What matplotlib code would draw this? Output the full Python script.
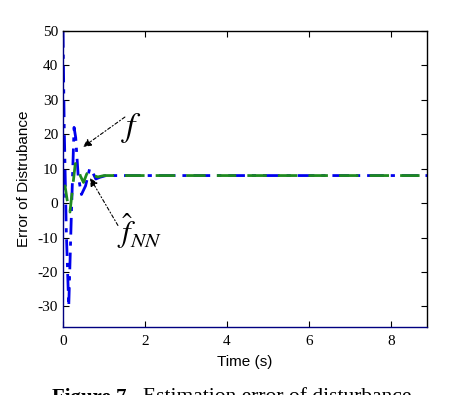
import matplotlib
matplotlib.use("Agg")
import matplotlib.pyplot as plt

# Data
t_f = [0, 0.03, 0.08, 0.14, 0.2, 0.27, 0.31, 0.37, 0.45, 0.55, 0.65, 0.72, 0.8, 0.9, 1.05, 8.9]
v_f = [50, 22, -8, -30, -5, 22, 19, 8, 2.5, 5, 10, 9, 7, 7.5, 8, 8]

t_nn = [0, 0.05, 0.1, 0.17, 0.23, 0.3, 0.36, 0.42, 0.5, 0.58, 0.66, 0.75, 0.85, 1.0, 8.9]
v_nn = [4, 5, 1, -2.6, 4, 11.5, 11, 8, 6, 8.5, 9.5, 8, 7.6, 8, 8]

x_ticks = [0, 2, 4, 6, 8]
y_ticks = [-30, -20, -10, 0, 10, 20, 30, 40, 50]

plt.rcParams['mathtext.fontset'] = 'stix'
plt.rcParams['axes.unicode_minus'] = False

fig = plt.figure(figsize=(4.74, 3.95), dpi=100)
ax = fig.add_axes([63/474, 1-327/395, (427-63)/474, (327-31)/395])

ax.plot(t_f, v_f, color='#0000ee', lw=2.0, linestyle=(0, (6, 2.5, 1.5, 2.5)))
ax.plot(t_nn, v_nn, color='#1f8a1f', lw=2.0, linestyle=(0, (7, 4)))

ax.set_xlim(0, 8.88)
ax.set_ylim(-36, 50)
ax.set_xticks(x_ticks)
ax.set_yticks(y_ticks)
ax.tick_params(direction='in', top=True, right=True, length=4, width=0.8)
ax.tick_params(axis='x', pad=6)
for lab in ax.get_xticklabels() + ax.get_yticklabels():
    lab.set_fontfamily('Liberation Serif')
    lab.set_fontsize(11)
for s in ax.spines.values():
    s.set_linewidth(1.0)
    s.set_color('black')
ax.spines['left'].set_color('#000080')
ax.spines['bottom'].set_color('#000080')

ax.set_xlabel('Time (s)', family='Liberation Sans', fontsize=11, labelpad=5)
ax.set_ylabel('Error of Distrubance', family='Liberation Sans', fontsize=11, labelpad=5)

arrowprops = dict(arrowstyle='-|>', color='black', lw=0.8, linestyle=(0, (3, 2, 1, 2)),
                  mutation_scale=12, shrinkA=0, shrinkB=0)
ax.annotate('', xy=(0.49, 16.3), xytext=(1.51, 25), arrowprops=arrowprops)
ax.text(1.66, 21.8, r'$f$', fontsize=24, ha='center', va='center')
ax.annotate('', xy=(0.66, 7.3), xytext=(1.34, -6.5), arrowprops=arrowprops)
ax.text(1.86, -8.0, r'$\hat{f}_{NN}$', fontsize=22, ha='center', va='center')

fig.text(52/474, 1-388/395, 'Figure 7.', family='Liberation Serif', fontweight='bold',
         fontsize=15, ha='left', va='top')
fig.text(143/474, 1-388/395, 'Estimation error of disturbance', family='Liberation Serif',
         fontsize=15.5, ha='left', va='top')

fig.savefig('out.png', dpi=100)
